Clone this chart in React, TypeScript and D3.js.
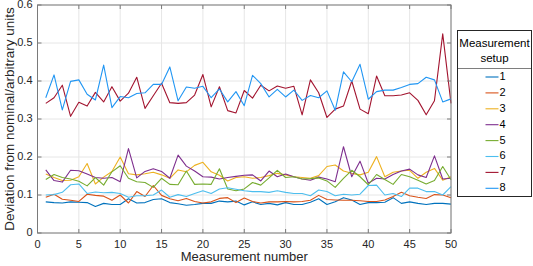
import { scaleLinear, line, range } from "d3";

// measurement numbers 1..50
const measurementNumbers = range(1, 51);

const setup1 = [0.082, 0.080, 0.079, 0.082, 0.081, 0.080, 0.070, 0.078, 0.075, 0.075, 0.090, 0.079, 0.080, 0.088, 0.090, 0.080, 0.077, 0.073, 0.075, 0.078, 0.078, 0.084, 0.082, 0.084, 0.074, 0.082, 0.075, 0.078, 0.074, 0.080, 0.075, 0.075, 0.081, 0.090, 0.075, 0.082, 0.093, 0.087, 0.075, 0.080, 0.080, 0.081, 0.093, 0.078, 0.082, 0.078, 0.075, 0.078, 0.078, 0.076];
const setup2 = [0.094, 0.102, 0.089, 0.086, 0.083, 0.102, 0.099, 0.097, 0.086, 0.100, 0.079, 0.109, 0.096, 0.125, 0.099, 0.090, 0.085, 0.091, 0.083, 0.079, 0.082, 0.091, 0.093, 0.080, 0.092, 0.083, 0.079, 0.082, 0.082, 0.083, 0.082, 0.083, 0.086, 0.099, 0.088, 0.087, 0.086, 0.086, 0.085, 0.083, 0.083, 0.087, 0.096, 0.107, 0.098, 0.094, 0.091, 0.101, 0.100, 0.093];
const setup3 = [0.155, 0.146, 0.138, 0.139, 0.148, 0.183, 0.129, 0.147, 0.162, 0.200, 0.156, 0.153, 0.156, 0.160, 0.153, 0.144, 0.166, 0.161, 0.178, 0.186, 0.161, 0.152, 0.137, 0.146, 0.148, 0.144, 0.146, 0.151, 0.157, 0.153, 0.148, 0.146, 0.144, 0.151, 0.175, 0.179, 0.163, 0.157, 0.153, 0.160, 0.201, 0.148, 0.160, 0.163, 0.165, 0.144, 0.160, 0.170, 0.139, 0.148];
const setup4 = [0.166, 0.138, 0.134, 0.165, 0.164, 0.155, 0.146, 0.144, 0.146, 0.135, 0.222, 0.145, 0.162, 0.169, 0.162, 0.144, 0.205, 0.176, 0.163, 0.148, 0.147, 0.142, 0.146, 0.149, 0.152, 0.153, 0.137, 0.163, 0.148, 0.155, 0.148, 0.142, 0.139, 0.147, 0.142, 0.135, 0.227, 0.148, 0.189, 0.131, 0.144, 0.142, 0.154, 0.163, 0.168, 0.153, 0.146, 0.203, 0.142, 0.144];
const setup5 = [0.141, 0.154, 0.146, 0.142, 0.136, 0.124, 0.146, 0.126, 0.161, 0.177, 0.144, 0.135, 0.133, 0.120, 0.144, 0.128, 0.127, 0.163, 0.128, 0.129, 0.128, 0.169, 0.116, 0.111, 0.116, 0.133, 0.126, 0.145, 0.165, 0.146, 0.148, 0.142, 0.143, 0.145, 0.137, 0.120, 0.144, 0.165, 0.148, 0.127, 0.154, 0.141, 0.128, 0.154, 0.148, 0.139, 0.129, 0.138, 0.175, 0.140];
const setup6 = [0.100, 0.101, 0.107, 0.127, 0.129, 0.104, 0.108, 0.106, 0.107, 0.104, 0.094, 0.098, 0.098, 0.100, 0.113, 0.094, 0.101, 0.096, 0.104, 0.111, 0.104, 0.116, 0.119, 0.115, 0.111, 0.109, 0.109, 0.107, 0.111, 0.107, 0.104, 0.104, 0.098, 0.113, 0.109, 0.098, 0.102, 0.100, 0.102, 0.125, 0.126, 0.100, 0.104, 0.096, 0.118, 0.118, 0.109, 0.109, 0.100, 0.122];
const setup7 = [0.341, 0.356, 0.389, 0.307, 0.344, 0.334, 0.370, 0.345, 0.385, 0.347, 0.368, 0.410, 0.328, 0.361, 0.394, 0.343, 0.341, 0.343, 0.363, 0.417, 0.332, 0.385, 0.322, 0.316, 0.375, 0.355, 0.389, 0.374, 0.387, 0.381, 0.386, 0.311, 0.403, 0.369, 0.304, 0.326, 0.334, 0.400, 0.326, 0.314, 0.413, 0.361, 0.361, 0.363, 0.369, 0.349, 0.311, 0.348, 0.524, 0.341];
const setup8 = [0.356, 0.416, 0.324, 0.399, 0.403, 0.365, 0.350, 0.442, 0.330, 0.359, 0.356, 0.367, 0.369, 0.391, 0.391, 0.437, 0.348, 0.384, 0.381, 0.386, 0.356, 0.379, 0.345, 0.372, 0.335, 0.415, 0.393, 0.358, 0.378, 0.358, 0.376, 0.349, 0.362, 0.356, 0.374, 0.323, 0.424, 0.398, 0.444, 0.352, 0.372, 0.376, 0.376, 0.383, 0.391, 0.393, 0.410, 0.403, 0.345, 0.353];

const seriesNames = ["1", "2", "3", "4", "5", "6", "7", "8"];
const seriesValues = [setup1, setup2, setup3, setup4, setup5, setup6, setup7, setup8];
const colors = ["#0072BD", "#D95319", "#EDB120", "#7E2F8E", "#77AC30", "#4DBEEE", "#A2142F", "#2196F3"];

const xTicks = [0, 5, 10, 15, 20, 25, 30, 35, 40, 45, 50];
const yTicks = [0, 0.1, 0.2, 0.3, 0.4, 0.5, 0.6];

const width = 533;
const height = 266;
const margin = { top: 5, right: 82, bottom: 33, left: 37.5 };
const font = "'Liberation Sans', Arial, Helvetica, sans-serif";

export default function App() {
  const x = scaleLinear([0, 50], [margin.left, width - margin.right]);
  const y = scaleLinear([0, 0.6], [height - margin.bottom, margin.top]);
  const path = line<number>()
    .x((_, i) => x(measurementNumbers[i]))
    .y((d) => y(d));

  const [x0, x1] = x.range();
  const [y0, y1] = y.range();
  const tick = 4;

  // legend box
  const lx = 457.5, ly = 30.5, lw = 74, lh = 166;

  return (
    <svg
      width={width}
      height={height}
      style={{ position: "absolute", left: 0, top: 0, background: "#fff" }}
      fontFamily={font}
    >
      {/* grid */}
      <g stroke="#e6e6e6" strokeWidth={1}>
        {xTicks.map((t) => (
          <line key={"gx" + t} x1={x(t)} x2={x(t)} y1={y0} y2={y1} />
        ))}
        {yTicks.map((t) => (
          <line key={"gy" + t} x1={x0} x2={x1} y1={y(t)} y2={y(t)} />
        ))}
      </g>

      {/* series */}
      <g fill="none" strokeWidth={1.1} strokeLinejoin="round">
        {seriesValues.map((vals, k) => (
          <path key={k} d={path(vals) ?? ""} stroke={colors[k]} />
        ))}
      </g>

      {/* box + ticks */}
      <g stroke="#7a7a7a" strokeWidth={1} fill="none">
        <rect x={x0} y={y1} width={x1 - x0} height={y0 - y1} />
        {xTicks.map((t) => (
          <g key={"tx" + t}>
            <line x1={x(t)} x2={x(t)} y1={y0} y2={y0 - tick} />
            <line x1={x(t)} x2={x(t)} y1={y1} y2={y1 + tick} />
          </g>
        ))}
        {yTicks.map((t) => (
          <g key={"ty" + t}>
            <line x1={x0} x2={x0 + tick} y1={y(t)} y2={y(t)} />
            <line x1={x1} x2={x1 - tick} y1={y(t)} y2={y(t)} />
          </g>
        ))}
      </g>

      {/* tick labels */}
      <g fontSize={11} fill="#262626">
        {xTicks.map((t) => (
          <text key={"lx" + t} x={x(t)} y={y0 + 12} textAnchor="middle" dominantBaseline="middle">
            {t}
          </text>
        ))}
        {yTicks.map((t) => (
          <text key={"ly" + t} x={x0 - 5} y={y(t)} textAnchor="end" dominantBaseline="middle">
            {t === 0 ? "0" : t.toFixed(1)}
          </text>
        ))}
      </g>

      {/* axis labels */}
      <text
        x={(x0 + x1) / 2}
        y={height - 8}
        textAnchor="middle"
        dominantBaseline="middle"
        fontSize={13}
        fill="#262626"
      >
        Measurement number
      </text>
      <text
        transform={`translate(10,${(y0 + y1) / 2}) rotate(-90)`}
        textAnchor="middle"
        dominantBaseline="middle"
        fontSize={13.5}
        fill="#262626"
      >
        Deviation from nominal/arbitrary units
      </text>

      {/* legend */}
      <g>
        <rect x={lx} y={ly} width={lw} height={lh} fill="#fff" stroke="#262626" strokeWidth={1} />
        <line x1={lx} x2={lx + lw} y1={68.5} y2={68.5} stroke="#262626" strokeWidth={0.6} />
        <text x={lx + lw / 2} y={44} textAnchor="middle" dominantBaseline="middle" fontSize={11.5} fill="#000">
          Measurement
        </text>
        <text x={lx + lw / 2} y={59} textAnchor="middle" dominantBaseline="middle" fontSize={11.5} fill="#000">
          setup
        </text>
        {seriesNames.map((name, k) => {
          const yy = 77 + k * 15.9;
          return (
            <g key={name}>
              <line x1={485.5} x2={498.5} y1={yy} y2={yy} stroke={colors[k]} strokeWidth={1.1} />
              <text x={499.5} y={yy} dominantBaseline="middle" fontSize={11} fill="#000">
                {name}
              </text>
            </g>
          );
        })}
      </g>
    </svg>
  );
}
